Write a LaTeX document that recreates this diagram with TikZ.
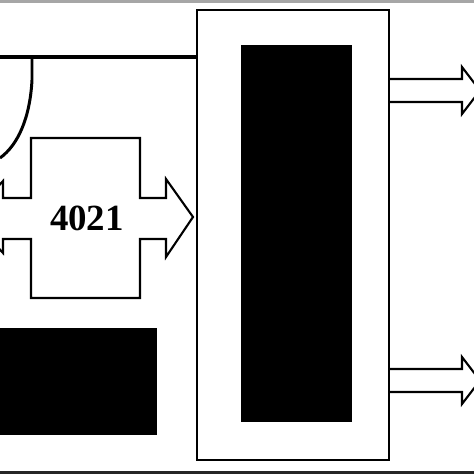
\documentclass[tikz,border=0pt]{standalone}
\usepackage{fontspec}
\newfontfamily\numfont{Liberation Serif}
\usetikzlibrary{calc,positioning}

\begin{document}
\begin{tikzpicture}[x=0.02cm, y=-0.02cm, line join=miter,
  outline/.style={line width=1.2pt},
  solid block/.style={fill=black, inner sep=0pt}]
  \useasboundingbox (0,0) rectangle (474,474);
  \clip (0,0) rectangle (474,474);

  % frame edges
  \fill[gray!70] (0,0) rectangle (474,3);
  \fill[black!85] (0,470.5) rectangle (474,474);

  % main unit with its chip
  \node[draw, outline, minimum width=3.84cm, minimum height=9cm, inner sep=0pt] (mcu) at (293,235) {};
  \node[solid block, minimum width=2.22cm, minimum height=7.54cm] (chip) at (296.5,233.5) {};

  % lower left block
  \node[solid block, minimum width=3.14cm, minimum height=2.14cm] (blk) at (78.5,381.5) {};

  % supply line and its branch
  \coordinate (src) at (0,57);
  \draw[line width=1.9pt] (src) -- (src -| mcu.west);
  \draw[line width=1.7pt] (32,57) -- (32,80) .. controls (30,118) and (18,145) .. (0,158);

  % bus into the unit
  \draw[outline] (-30,217) -- (3,181) -- (3,198) -- (31,198) -- (31,138) -- (140,138)
    -- (140,198) -- (166,198) -- (166,179) -- (193,217) -- (166,257) -- (166,239)
    -- (140,239) -- (140,298) -- (31,298) -- (31,239) -- (3,239) -- (3,253) -- cycle;
  \node[font=\numfont\bfseries\fontsize{21}{21}\selectfont] (bus) at (87,218) {4021};

  % outputs
  \coordinate (outa) at (mcu.east |- 0,79);
  \coordinate (outb) at (mcu.east |- 0,369);
  \draw[outline] (outa) -- (462,79) -- (462,67) -- (480,90.5) -- (462,114) -- (462,102) -- (mcu.east |- 0,102);
  \draw[outline] (outb) -- (462,369) -- (462,357) -- (480,380.5) -- (462,404) -- (462,392) -- (mcu.east |- 0,392);
\end{tikzpicture}
\end{document}
